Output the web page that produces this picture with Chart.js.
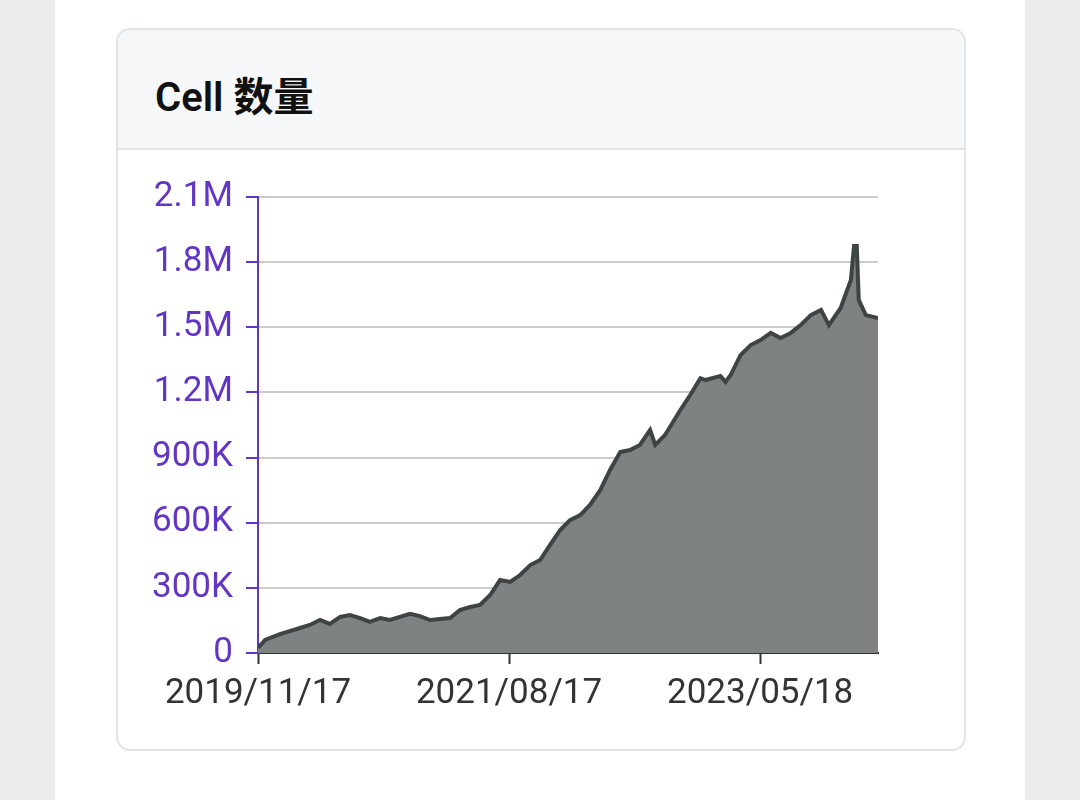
<!DOCTYPE html>
<html><head><meta charset="utf-8">
<script src="https://cdn.jsdelivr.net/npm/chart.js@4"></script>
<style>
body{margin:0;background:#ebebeb;font-family:Roboto,"Noto Sans CJK SC",sans-serif;}
#page{position:absolute;left:55px;top:0;width:970px;height:800px;background:#fff;}
#card{position:absolute;left:116px;top:28px;width:846px;height:719px;border:2px solid #e2e3e5;border-radius:14px;overflow:hidden;background:#fff;}
#head{height:118px;background:#f6f7f9;border-bottom:2px solid #e2e3e5;}
#head h1{margin:0;position:absolute;left:37px;top:35px;font-size:40px;font-weight:600;color:#111;}
#box{position:absolute;left:140px;top:163px;width:760px;height:550px;}
</style></head><body>
<div id="page"></div>
<div id="card"><div id="head"><h1>Cell 数量</h1></div></div>
<div id="box"><canvas id="chart"></canvas></div>
<script>
const startDate = new Date(2019,10,17);
const xTicks = [0,639,1278];
const yTicks = [0,300000,600000,900000,1200000,1500000,1800000,2100000];
const days = [0,18,56,107,132,158,183,209,234,260,285,311,336,361,387,412,438,463,489,514,540,565,591,616,642,667,693,718,743,769,794,820,845,871,896,922,947,972,998,1011,1036,1075,1100,1126,1139,1177,1190,1203,1228,1254,1279,1305,1330,1356,1381,1407,1433,1453,1483,1509,1517,1524,1529,1547,1578];
const cells = [23000,60000,87000,115000,129000,152000,134000,166000,175000,161000,143000,161000,152000,166000,180000,170000,152000,157000,161000,198000,212000,221000,267000,336000,327000,359000,405000,428000,497000,566000,612000,635000,682000,750000,843000,926000,935000,958000,1027000,958000,1004000,1119000,1188000,1266000,1257000,1276000,1248000,1280000,1372000,1418000,1441000,1474000,1451000,1474000,1510000,1556000,1580000,1510000,1589000,1718000,1874000,1874000,1626000,1556000,1543000];

function fmtDate(d){
  let t = new Date(startDate.getTime()+d*86400000);
  return t.getFullYear()+"/"+String(t.getMonth()+1).padStart(2,"0")+"/"+String(t.getDate()).padStart(2,"0");
}
function fmtVal(v){
  if(v>=1000000) return (v/1000000).toFixed(1)+"M";
  if(v>=1000) return (v/1000)+"K";
  return String(v);
}

new Chart(document.getElementById("chart"),{
  type:"line",
  data:{datasets:[{
    data: days.map((d,i)=>({x:d,y:cells[i]})),
    borderColor:"#3e4343",borderWidth:4,backgroundColor:"#7e8282",fill:"origin",
    pointRadius:0,tension:0
  }]},
  options:{
    responsive:true,maintainAspectRatio:false,animation:false,
    plugins:{legend:{display:false},tooltip:{enabled:false}},
    layout:{padding:{right:22,top:0}},
    scales:{
      x:{type:"linear",min:0,max:1578,
        afterBuildTicks:a=>{a.ticks=xTicks.map(v=>({value:v}));},
        afterFit:a=>{a.height=60;},
        ticks:{callback:v=>fmtDate(v),color:"#333",font:{size:35,family:"Roboto"},maxRotation:0,autoSkip:false,padding:9},
        grid:{drawOnChartArea:false,drawTicks:true,tickLength:11,tickColor:"#333",tickWidth:2},
        border:{color:"#333",width:2}},
      y:{min:0,max:2100000,
        afterBuildTicks:a=>{a.ticks=yTicks.map(v=>({value:v}));},
        afterFit:a=>{a.width=118;},
        ticks:{callback:v=>fmtVal(v),color:"#6236c4",font:{size:35,family:"Roboto"},padding:13},
        grid:{color:"#cccccc",lineWidth:2,tickColor:"#6236c4",tickLength:12},
        border:{color:"#6236c4",width:2}}
    }
  }
});
</script></body></html>
